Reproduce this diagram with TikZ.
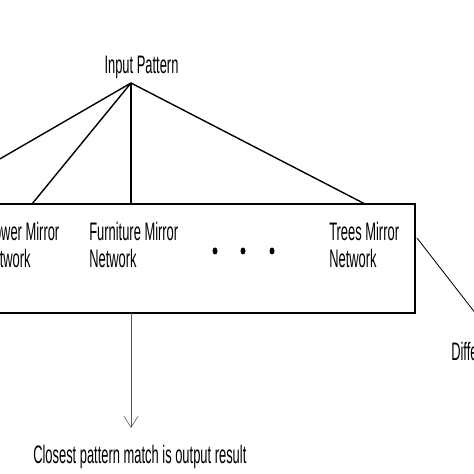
\documentclass[tikz,border=0pt]{standalone}
\usepackage{fontspec}
\newfontfamily\narrowfont{Liberation Sans}[FakeStretch=0.51]
\usepackage{tikz}
\usetikzlibrary{arrows.meta, positioning}

\begin{document}
\begin{tikzpicture}[x=0.025cm, y=0.025cm, font=\narrowfont\fontsize{18}{19.5}\selectfont,
    every node/.style={inner sep=0pt}, link/.style={line width=1pt}]
    \clip (0,0) rectangle (474,474);
    \fill[white] (0,0) rectangle (474,474);

    % 输入
    \node (inp) at (141.5, 407) {Input Pattern};
    \coordinate (apex) at (131, 391);

    % 网络框
    \draw[line width=1.2pt] (-30, 161) rectangle (415, 270);
    \node[anchor=west, align=left] (flower) at (-17, 229) {Flower Mirror\\Network};
    \node[anchor=west, align=left] (furn) at (89, 229) {Furniture Mirror\\Network};
    \node[anchor=west, align=left] (trees) at (329, 229) {Trees Mirror\\Network};
    \foreach \x/\n in {215/d1, 243/d2, 272/d3}
        \fill (\x, 223) ellipse (2.5 and 3.5) coordinate (\n);

    % 连线
    \coordinate (far) at (-78, 270);
    \coordinate (flowertop) at (32, 270);
    \coordinate (furntop) at (131, 270);
    \coordinate (treestop) at (365, 270);
    \draw[link] (apex) -- (far);
    \draw[link] (apex) -- (flowertop);
    \draw[link] (apex) -- (furntop);
    \draw[link] (apex) -- (treestop);

    % 输出
    \coordinate (boxbot) at (131, 161);
    \node[anchor=west] (out) at (33, 17) {Closest pattern match is output result};
    \draw[gray!70!black, -{Straight Barb[length=8pt, width=10pt]}] (boxbot) -- (131, 46) coordinate (outtip);

    % 右侧
    \coordinate (rstart) at (417, 236);
    \coordinate (rend) at (490, 142);
    \draw[semithick] (rstart) -- (rend);
    \node[anchor=west] (diff) at (451, 123) {Diffe};
\end{tikzpicture}
\end{document}
